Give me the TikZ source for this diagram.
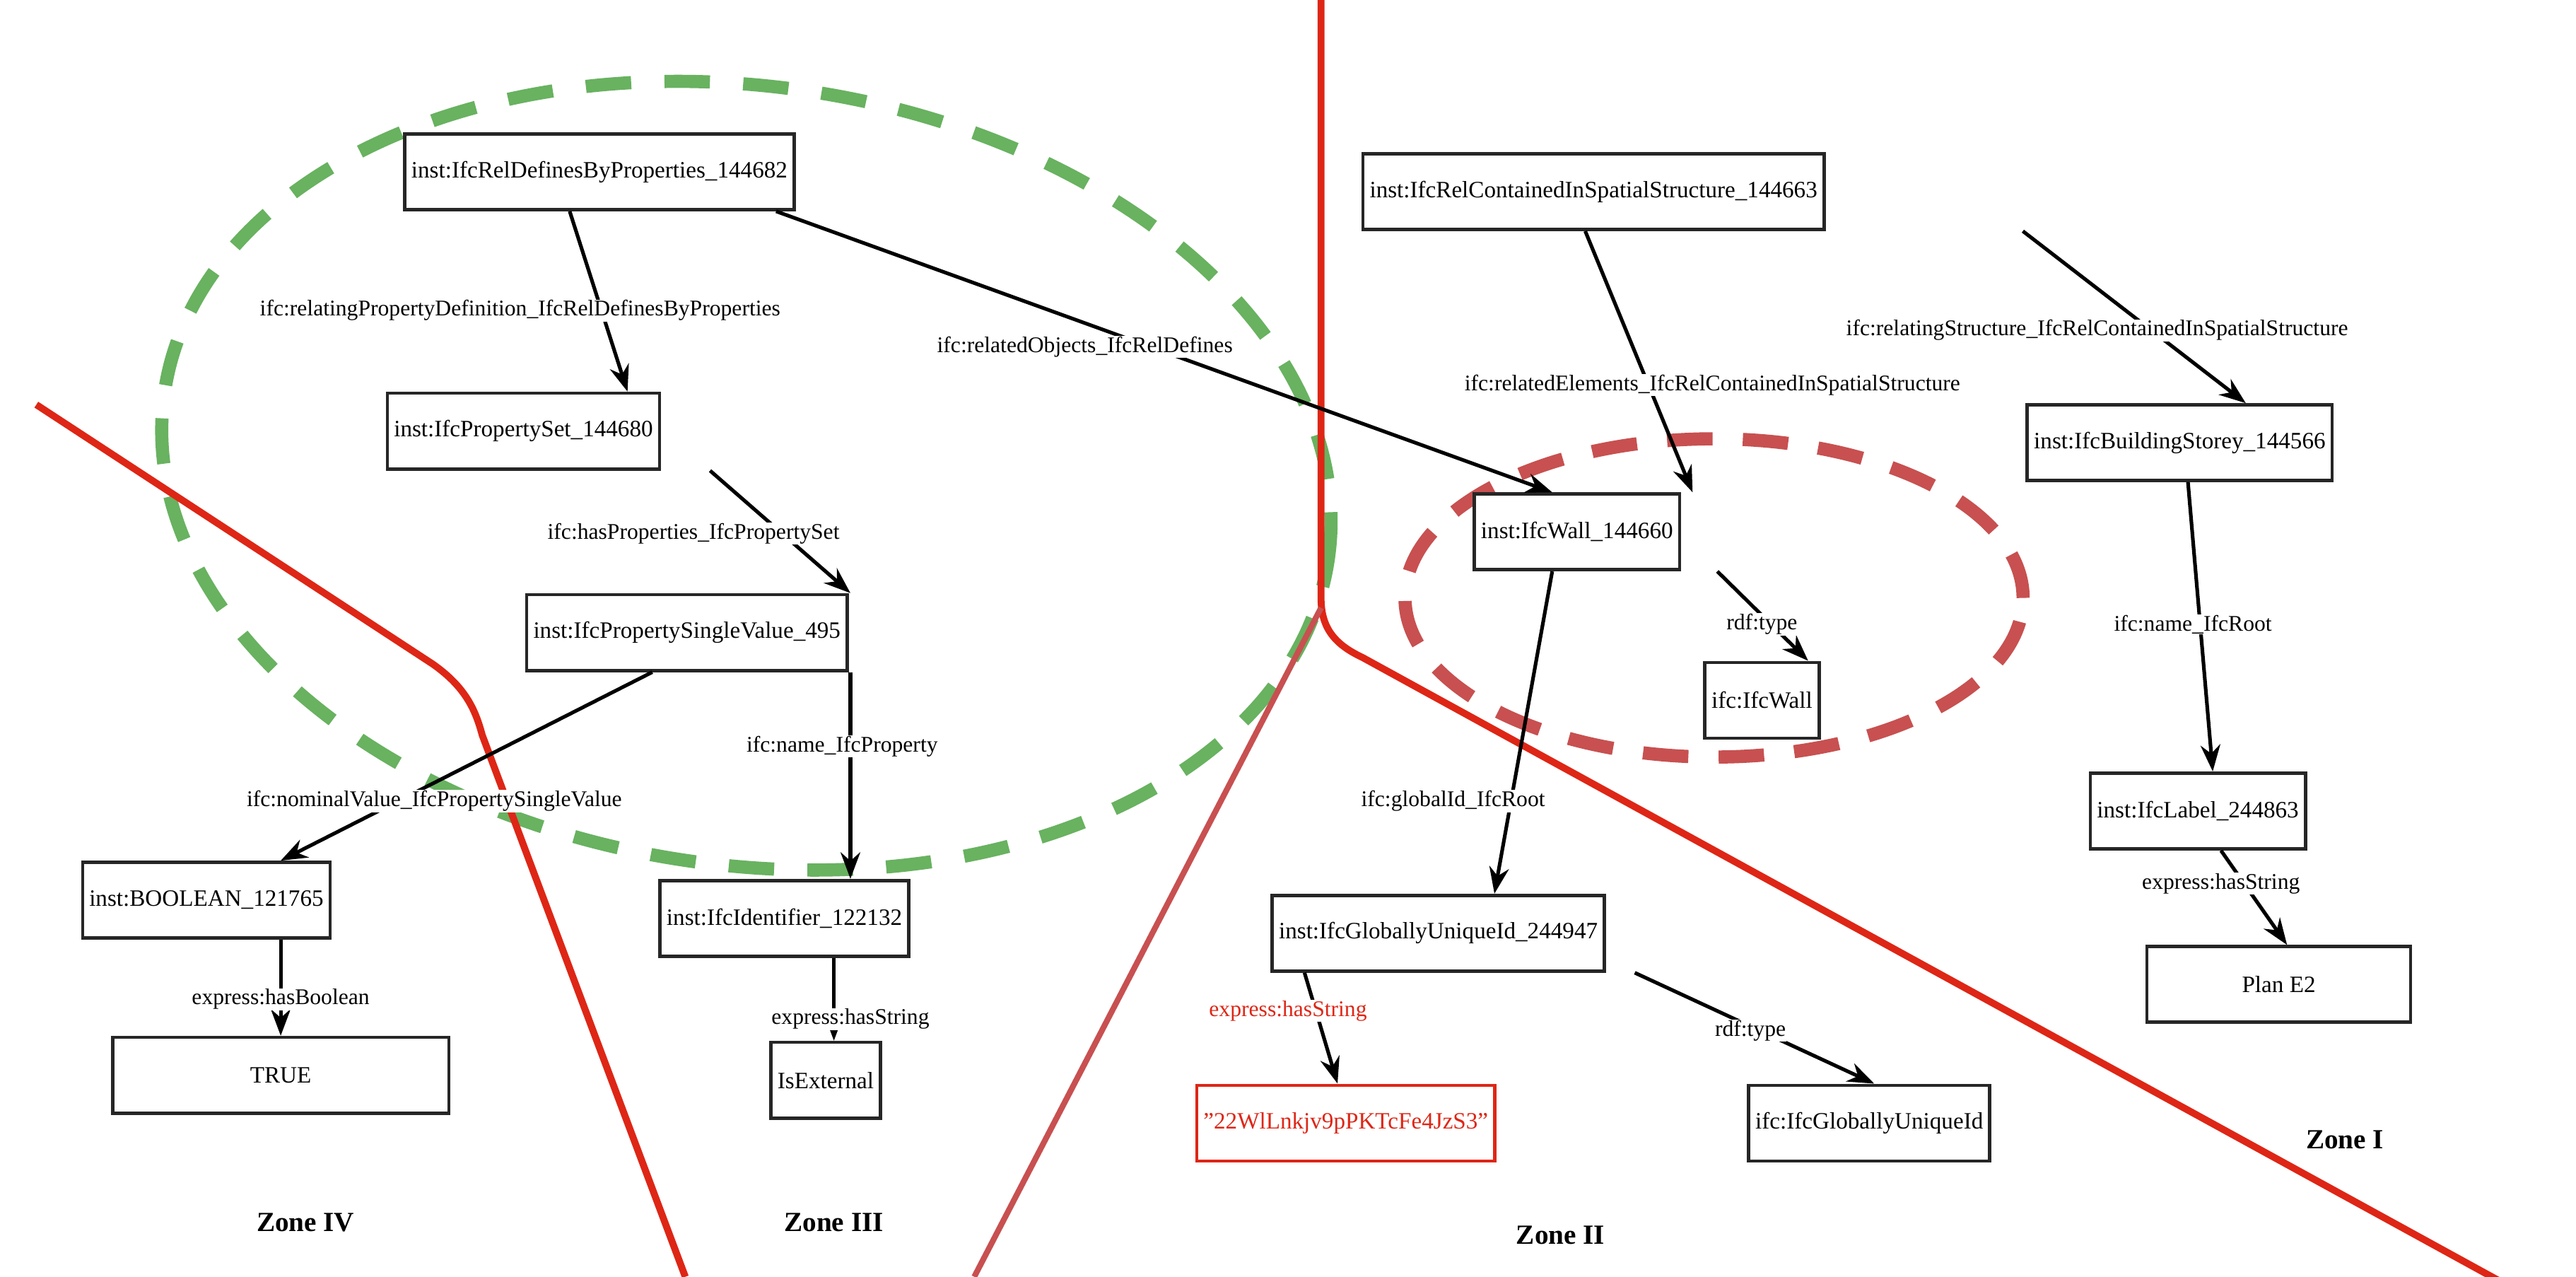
\documentclass[tikz,border=0pt]{standalone}
\usepackage{fontspec}
\setmainfont{Liberation Serif}
\usetikzlibrary{arrows.meta,calc}
\definecolor{zred}{RGB}{222,38,22}
\definecolor{zgreen}{RGB}{104,178,96}
\definecolor{ered}{RGB}{200,80,80}
\newdimen\uu \uu=0.109cm
\begin{document}
\begin{tikzpicture}[x=0.109cm,y=-0.109cm,
  box/.style={draw=black!85,line width=0.218cm,fill=white,minimum height=5cm,inner xsep=0.44cm,font=\fontsize{44}{48}\selectfont},
  lab/.style={fill=white,inner sep=0.05cm,font=\fontsize{42}{46}\selectfont},
  arr/.style={line width=0.24cm,-{Stealth[length=1.75cm,width=1.3cm]}},
  zone/.style={font=\fontsize{52}{56}\selectfont\bfseries},
  zl/.style={zred,line width=0.46cm}]
\useasboundingbox (0,0) rectangle (1560,773);
% ellipses
\draw[zgreen,line width=0.87cm,dash pattern=on 3cm off 2.2cm,rotate around={-8:(452,288)}] (452,288) ellipse [x radius=38.8cm,y radius=25.7cm];
\draw[ered,line width=0.87cm,dash pattern=on 3cm off 2cm] (1038,362) ellipse [x radius=20.4cm,y radius=10.5cm];
% red boundaries
\draw[zl] (22,245) -- (262,402) .. controls (282,416) and (288,430) .. (292,445) -- (415,773);
\draw[zl] (800,0) -- (800,362) .. controls (800,380) and (808,390) .. (825,398) -- (1540,790);
\draw[ered,line width=0.38cm] (800,368) -- (590,773);
% nodes
\node[box] (A) at (363,104) {inst:IfcRelDefinesByProperties\_144682};
\node[box] (B) at (317,261) {inst:IfcPropertySet\_144680};
\node[box] (C) at (416,383) {inst:IfcPropertySingleValue\_495};
\node[box] (D) at (125,545) {inst:BOOLEAN\_121765};
\node[box,minimum width=22.2cm] (E) at (170,651) {TRUE};
\node[box] (F) at (475,556) {inst:IfcIdentifier\_122132};
\node[box] (G) at (500,654) {IsExternal};
\node[box] (H) at (965,116) {inst:IfcRelContainedInSpatialStructure\_144663};
\node[box] (W) at (955,322) {inst:IfcWall\_144660};
\node[box] (T) at (1067,424) {ifc:IfcWall};
\node[box] (S) at (1320,268) {inst:IfcBuildingStorey\_144566};
\node[box] (L) at (1331,491) {inst:IfcLabel\_244863};
\node[box,minimum width=17.4cm] (P) at (1380,596) {Plan E2};
\node[box] (U) at (871,565) {inst:IfcGloballyUniqueId\_244947};
\node[box,draw=zred,text=zred] (Q) at (815,680) {\symbol{34}22WlLnkjv9pPKTcFe4JzS3\symbol{34}};
\node[box] (V) at (1132,680) {ifc:IfcGloballyUniqueId};
% edges
\draw[arr] ($(A.south)+(-18,0)$) -- ($(B.north)+(63,0)$);
\draw[arr] ($(A.south)+(107,0)$) -- ($(W.north)+(-15,0)$);
\draw[arr] ($(B.south)+(113,0)$) -- ($(C.north)+(99,0)$);
\draw[arr] ($(C.south)+(-21,0)$) -- ($(D.north)+(45,0)$);
\draw[arr] ($(C.south)+(99,0)$) -- ($(F.north)+(40,0)$);
\draw[arr] ($(D.south)+(45,0)$) -- (E.north);
\draw[arr] ($(F.south)+(30,0)$) -- ($(G.north)+(5,0)$);
\draw[arr] ($(H.south)+(-5,0)$) -- ($(W.north)+(70,0)$);
\draw[arr] ($(H.south)+(260,0)$) -- ($(S.north)+(40,0)$);
\draw[arr] ($(W.south)+(85,0)$) -- ($(T.north)+(28,0)$);
\draw[arr] ($(W.south)+(-15,0)$) -- ($(U.north)+(34,0)$);
\draw[arr] ($(S.south)+(5,0)$) -- ($(L.north)+(9,0)$);
\draw[arr] ($(L.south)+(14,0)$) -- ($(P.north)+(5,0)$);
\draw[arr] ($(U.south)+(-81,0)$) -- ($(Q.north)+(-5,0)$);
\draw[arr] ($(U.south)+(119,0)$) -- ($(V.north)+(3,0)$);
% labels
\node[lab] (l1) at (315,188) {ifc:relatingPropertyDefinition\_IfcRelDefinesByProperties};
\node[lab] (l2) at (657,210) {ifc:relatedObjects\_IfcRelDefines};
\node[lab] (l3) at (420,323) {ifc:hasProperties\_IfcPropertySet};
\node[lab] (l4) at (263,485) {ifc:nominalValue\_IfcPropertySingleValue};
\node[lab] (l5) at (510,452) {ifc:name\_IfcProperty};
\node[lab] (l6) at (170,605) {express:hasBoolean};
\node[lab] (l7) at (515,617) {express:hasString};
\node[lab] (l8) at (1270,200) {ifc:relatingStructure\_IfcRelContainedInSpatialStructure};
\node[lab] (l9) at (1037,233) {ifc:relatedElements\_IfcRelContainedInSpatialStructure};
\node[lab] (l10) at (1067,378) {rdf:type};
\node[lab] (l11) at (880,485) {ifc:globalId\_IfcRoot};
\node[lab] (l12) at (1328,378) {ifc:name\_IfcRoot};
\node[lab] (l13) at (1345,535) {express:hasString};
\node[lab,text=zred] (l14) at (780,612) {express:hasString};
\node[lab] (l15) at (1060,624) {rdf:type};
% zones
\node[zone] (z4) at (185,740) {Zone IV};
\node[zone] (z3) at (505,740) {Zone III};
\node[zone] (z2) at (945,748) {Zone II};
\node[zone] (z1) at (1420,690) {Zone I};
\end{tikzpicture}
\end{document}
